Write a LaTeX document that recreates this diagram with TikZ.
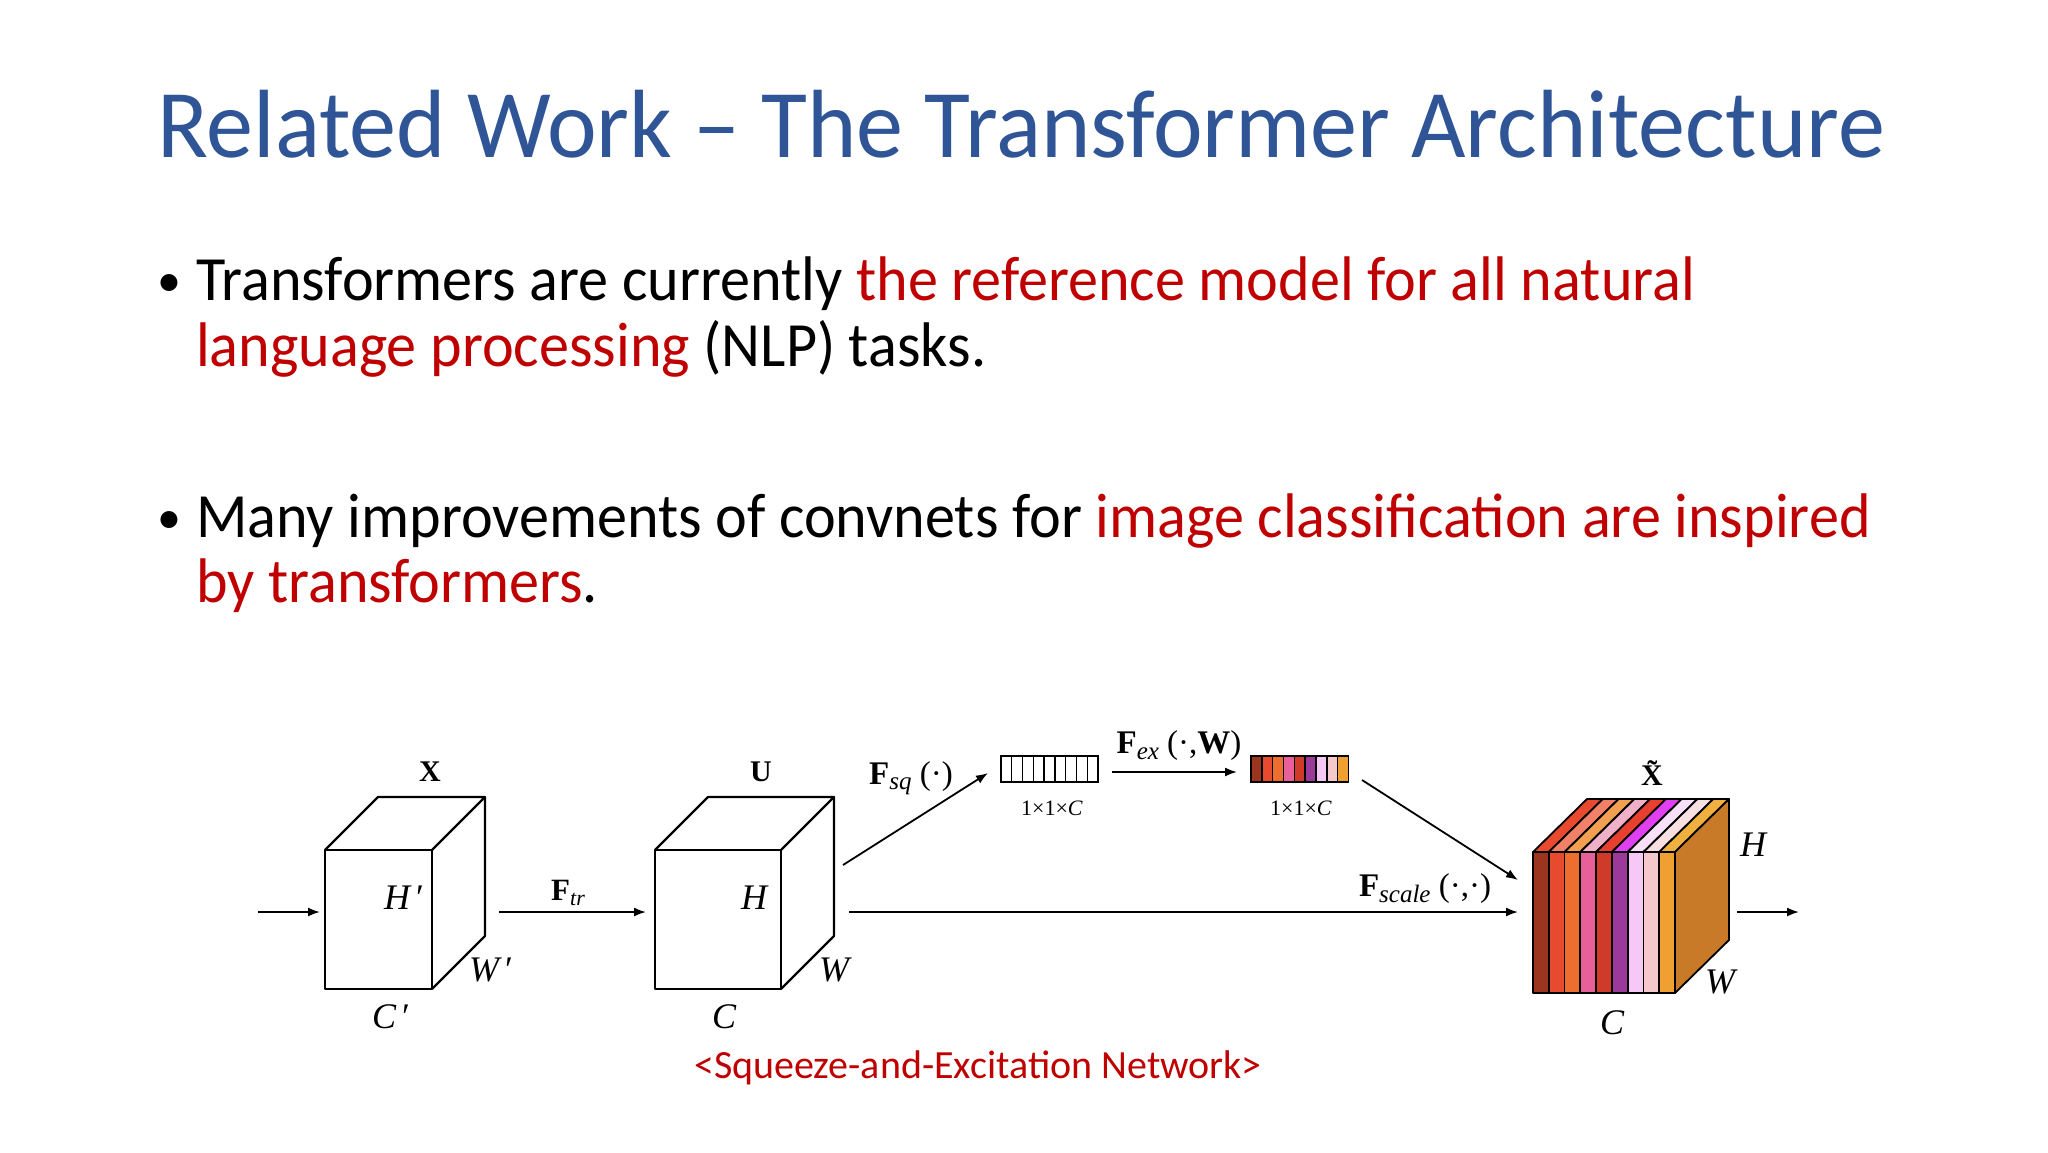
\documentclass[tikz,border=0pt]{standalone}
\usepackage{fontspec}
\setmainfont{Carlito}
\newfontfamily\tnr{Liberation Serif}
\usetikzlibrary{arrows.meta}
\definecolor{titleblue}{HTML}{2F5597}
\definecolor{hired}{HTML}{C00000}
\definecolor{sidec}{HTML}{C87A28}
\newcommand\Fsb[2]{{\bfseries F}\raisebox{-0.35ex}{\itshape\fontsize{#1}{#1}\selectfont #2}}
\newcommand\pr{{\upshape\char"2032}}
\newcommand\bx[1]{\scalebox{0.955}[1]{#1}}
\begin{document}
\begin{tikzpicture}[x=1pt,y=-1pt,
  blbl/.style={inner sep=0,font=\tnr\bfseries\fontsize{30}{30}\selectfont},
  ilbl/.style={inner sep=0,font=\tnr\itshape\fontsize{36}{36}\selectfont},
  flbl/.style={inner sep=0,font=\tnr\fontsize{33}{33}\selectfont},
  dlbl/.style={inner sep=0,font=\tnr\fontsize{22}{22}\selectfont},
  body/.style={anchor=base west,inner sep=0,font=\fontsize{63}{63}\selectfont},
  bul/.style={anchor=base west,inner sep=0,font=\fontsize{48}{48}\selectfont},
  arr/.style={line width=1.8pt,-{Latex[length=12pt,width=9pt]}},
  cube/.style={line width=2.2pt,line join=round}]
\path[fill=white] (0,0) rectangle (2048,1152);
\useasboundingbox (0,0) rectangle (2048,1152);
% title and text
\node[anchor=base west,inner sep=0,text=titleblue,font=\fontsize{97}{97}\selectfont] (title) at (157,157) {\scalebox{0.97}[1]{Related Work – The Transformer Architecture}};
\node[bul] (b1) at (157,296) {•};
\node[body] (t1a) at (196,300) {\bx{Transformers are currently \textcolor{hired}{the reference model for all natural}}};
\node[body] (t1b) at (196,366) {\bx{\textcolor{hired}{language processing} (NLP) tasks.}};
\node[bul] (b2) at (157,533) {•};
\node[body] (t2a) at (196,537) {\bx{Many improvements of convnets for \textcolor{hired}{image classification are inspired}}};
\node[body] (t2b) at (196,602) {\bx{\textcolor{hired}{by transformers}.}};
% cube X
\draw[cube] (325,850) rectangle (432,989);
\draw[cube] (325,850) -- (378,797) -- (485,797) -- (432,850);
\draw[cube] (485,797) -- (485,936) -- (432,989);
\node[blbl] (lX) at (430,772) {X};
\node[ilbl] (lH1) at (404,898) {H\,\pr};
\node[ilbl] (lW1) at (491,970) {W\,\pr};
\node[ilbl] (lC1) at (391,1017) {C\,\pr};
% cube U
\draw[cube] (655,850) rectangle (781,989);
\draw[cube] (655,850) -- (708,797) -- (834,797) -- (781,850);
\draw[cube] (834,797) -- (834,936) -- (781,989);
\node[blbl] (lU) at (761,772) {U};
\node[ilbl] (lH2) at (754,898) {H};
\node[ilbl] (lW2) at (834,970) {W};
\node[ilbl] (lC2) at (724,1017) {C};
% bars
\foreach \i in {0,...,8} {
  \draw[line width=1.4pt] (1001+\i*10.78,756) rectangle (1001+\i*10.78+10.78,782);
}
\node[dlbl] (lb1) at (1052,808) {1×1×\textit{C}};
\foreach \c [count=\i from 0] in {9B3520,E84A30,EE6E30,E8609A,D03A28,9B3A9A,F5C8F5,F5C8CC,F0A030} {
  \definecolor{tmpc}{HTML}{\c}
  \draw[line width=1.4pt,fill=tmpc] (1251+\i*10.83,756) rectangle (1251+\i*10.83+10.83,782);
}
\node[dlbl] (lb2) at (1301,808) {1×1×\textit{C}};
% cube X tilde
\foreach \c/\t [count=\i from 0] in {9B3520/E84A30,E84A30/F08068,EE6E30/F0A050,E8609A/F0B0C8,D03A28/E84030,9B3A9A/E040F0,F5C8F5/F8E0F8,F5C8CC/F8E0E0,F0A030/F0B040} {
  \definecolor{fc}{HTML}{\c}
  \definecolor{tc}{HTML}{\t}
  \draw[line width=1.8pt,line join=round,fill=fc] (1533+\i*15.78,852) rectangle (1533+\i*15.78+15.78,993);
  \draw[line width=1.8pt,line join=round,fill=tc] (1533+\i*15.78,852) -- (1587+\i*15.78,799) -- (1587+\i*15.78+15.78,799) -- (1533+\i*15.78+15.78,852) -- cycle;
}
\draw[line width=1.8pt,line join=round,fill=sidec] (1675,852) -- (1729,799) -- (1729,940) -- (1675,993) -- cycle;
\node[blbl] (lXt) at (1652,773) {\~X};
\node[ilbl] (lH3) at (1753,845) {H};
\node[ilbl] (lW3) at (1720,982) {W};
\node[ilbl] (lC3) at (1612,1023) {C};
% arrow coordinates
\coordinate (inS) at (258,912); \coordinate (inE) at (320,912);
\coordinate (trS) at (499,912); \coordinate (trE) at (646,912);
\coordinate (sqS) at (843,865); \coordinate (sqE) at (988,773);
\coordinate (exS) at (1112,772); \coordinate (exE) at (1237,772);
\coordinate (scS) at (849,912); \coordinate (scE) at (1518,912);
\coordinate (dgS) at (1362,780); \coordinate (dgE) at (1518,880);
\coordinate (outS) at (1737,912); \coordinate (outE) at (1799,912);
\draw[arr] (inS) -- (inE);
\draw[arr] (trS) -- (trE);
\draw[arr] (sqS) -- (sqE);
\draw[arr] (exS) -- (exE);
\draw[arr] (scS) -- (scE);
\draw[arr] (dgS) -- (dgE);
\draw[arr] (outS) -- (outE);
\node[flbl,font=\tnr\fontsize{31}{31}\selectfont] (lFtr) at (568,893) {\Fsb{22}{tr}};
\node[flbl] (lFsq) at (911,778) {\Fsb{25}{sq} (·)};
\node[flbl] (lFex) at (1179,746) {\Fsb{25}{ex} (·,\textbf{W})};
\node[flbl] (lFsc) at (1425,889) {\Fsb{25}{scale} (·,·)};
% caption
\node[anchor=base,inner sep=0,text=hired,font=\fontsize{40}{40}\selectfont] (cap) at (978,1078) {<Squeeze-and-Excitation Network>};
\end{tikzpicture}
\end{document}
